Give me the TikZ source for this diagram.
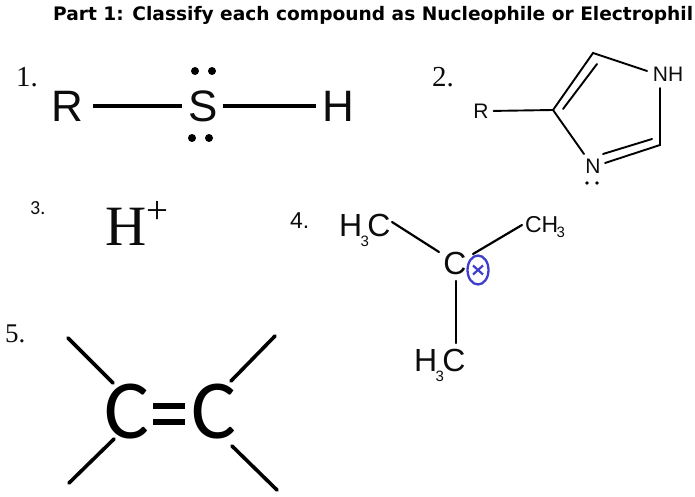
\documentclass[tikz,border=0pt]{standalone}
\usepackage{fontspec}
\usetikzlibrary{shapes.geometric}
\setmainfont{Liberation Serif}
\newfontfamily\arialf{Liberation Sans}
\newfontfamily\calibf{Carlito}
\newfontfamily\titlef{DejaVu Sans}
\newcommand{\fsz}[1]{\fontsize{#1}{#1}\selectfont}
\newcommand{\subthree}[2]{\kern-1.5pt\raisebox{#2}{\fsz{#1}3}\kern-1.5pt}
\definecolor{penblue}{RGB}{62,62,205}
\definecolor{inkblack}{RGB}{12,12,12}
\tikzset{
  sans/.style={font=\arialf\fsz{#1}, inner sep=0pt, outer sep=0pt, text height=0.716*#1pt, text depth=0pt, text=inkblack},
  serifnum/.style={font=\fsz{#1}, inner sep=0pt, anchor=base west, text=inkblack},
  sansnum/.style={font=\arialf\fsz{#1}, inner sep=0pt, anchor=base west, text=inkblack},
  calibnum/.style={font=\calibf\fsz{#1}, inner sep=0pt, anchor=base west, text=inkblack},
  carbon/.style={font=\calibf\fsz{#1}, inner sep=0pt, text height=0.644*#1pt, text depth=0pt, text=black},
  bond/.style={draw=black, line width=#1, line cap=round},
  bond/.default=2.2pt,
  lonepair/.style={fill=black, circle, inner sep=0pt, minimum size=#1},
}
\begin{document}
\begin{tikzpicture}[x=1pt,y=-1pt]
\useasboundingbox (0,0) rectangle (695,497);
% title
\node[font=\titlef\bfseries\fsz{18.6}, anchor=base west, inner sep=0pt, text=black] (title) at (53,20.5) {Part 1: Classify each compound as Nucleophile or Electrophil};
% 1
\node[serifnum=29] (n1) at (16,87) {1.};
\node[sans=44] (r1) at (67,106) {R};
\node[sans=44] (s1) at (203,106) {S};
\node[sans=44] (h1) at (338,106) {H};
\draw[bond=3.2pt, shorten <=10pt, shorten >=6pt, line cap=butt] (r1.east) -- (s1.west);
\draw[bond=3.2pt, shorten <=5pt, shorten >=6pt, line cap=butt] (s1.east) -- (h1.west);
\node[lonepair=8pt] (s1a) at (195,71) {};
\node[lonepair=8pt] (s1b) at (212,71) {};
\node[lonepair=8pt] (s1c) at (192,138) {};
\node[lonepair=8pt] (s1d) at (209,138) {};
% 2
\node[serifnum=29] (n2) at (432,87) {2.};
\node[sans=21] (r2) at (481,111) {R};
\node[sans=21] (nh) at (668,74) {NH};
\node[sans=21] (n3) at (593,166) {N};
\coordinate (c1) at (553,110);
\coordinate (c2) at (593,53);
\coordinate (c3) at (660,145);
\coordinate (c1i) at (563,109);
\coordinate (c2i) at (597,64);
\coordinate (c3i) at (652,139);
\coordinate (n3i) at (603,154);
\coordinate (n3o) at (605,163);
\coordinate (n3t) at (584,154);
\coordinate (nhl) at (647,71);
\coordinate (nhb) at (660,88);
\draw[bond=1.9pt, shorten <=5pt] (r2.east) -- (c1);
\draw[bond=1.9pt] (c1) -- (c2) -- (nhl);
\draw[bond=1.9pt] (c1i) -- (c2i);
\draw[bond=1.9pt] (nhb) -- (c3) -- (n3o);
\draw[bond=1.9pt] (c3i) -- (n3i);
\draw[bond=1.9pt] (n3t) -- (c1);
\node[lonepair=3.6pt] (n3a) at (587,183) {};
\node[lonepair=3.6pt] (n3b) at (597,183) {};
% 3
\node[calibnum=20] (n3l) at (30,214) {3.};
\node[font=\fsz{57}, anchor=base west, inner sep=0pt, text=inkblack] (hplus) at (105,245) {H\kern0.5pt\raisebox{22pt}{\fsz{39}+}};
% 4
\node[sansnum=23] (n4) at (290,228) {4.};
\node[sans=32, anchor=base west] (m1) at (339,236) {H\subthree{15}{-10pt}C};
\node[sans=32] (cc) at (455,263) {C};
\node[sans=23, anchor=base west] (m2) at (525,232) {CH\subthree{15}{-5pt}};
\node[sans=32, anchor=base west] (m3) at (414,371) {H\subthree{15}{-10pt}C};
\coordinate (m1e) at (392,222);
\coordinate (cc1) at (439,252);
\coordinate (cc2) at (473,254);
\coordinate (m2w) at (522,225);
\coordinate (cc3) at (456,281);
\coordinate (m3t) at (456,343);
\draw[bond=2.2pt] (m1e) -- (cc1);
\draw[bond=2.2pt] (cc2) -- (m2w);
\draw[bond=2.2pt] (cc3) -- (m3t);
\node[draw=penblue, line width=2.3pt, ellipse, minimum width=21pt, minimum height=29pt, inner sep=0pt] (plus) at (478,270) {};
\draw[penblue, line width=2.2pt] (473,265.5) -- (483,274.5) (483,265.5) -- (473,274.5);
% 5
\node[serifnum=27] (n5) at (5,342) {5.};
\node[carbon=84] (cl) at (127,411) {C};
\node[carbon=84] (cr) at (214,411) {C};
\coordinate (dl1) at (153,406);
\coordinate (dr1) at (185,406);
\coordinate (dl2) at (153,422);
\coordinate (dr2) at (185,422);
\draw[line width=5.5pt] (dl1) -- (dr1);
\draw[line width=5.5pt] (dl2) -- (dr2);
\coordinate (e1) at (68,338);
\coordinate (e1b) at (113,383);
\coordinate (e2) at (275,336);
\coordinate (e2b) at (231,381);
\coordinate (e3) at (69,483);
\coordinate (e3b) at (114,439);
\coordinate (e4) at (277,490);
\coordinate (e4b) at (232,446);
\draw[bond=3.6pt] (e1) -- (e1b);
\draw[bond=3.6pt] (e2) -- (e2b);
\draw[bond=3.6pt] (e3) -- (e3b);
\draw[bond=3.6pt] (e4) -- (e4b);
\end{tikzpicture}
\end{document}
